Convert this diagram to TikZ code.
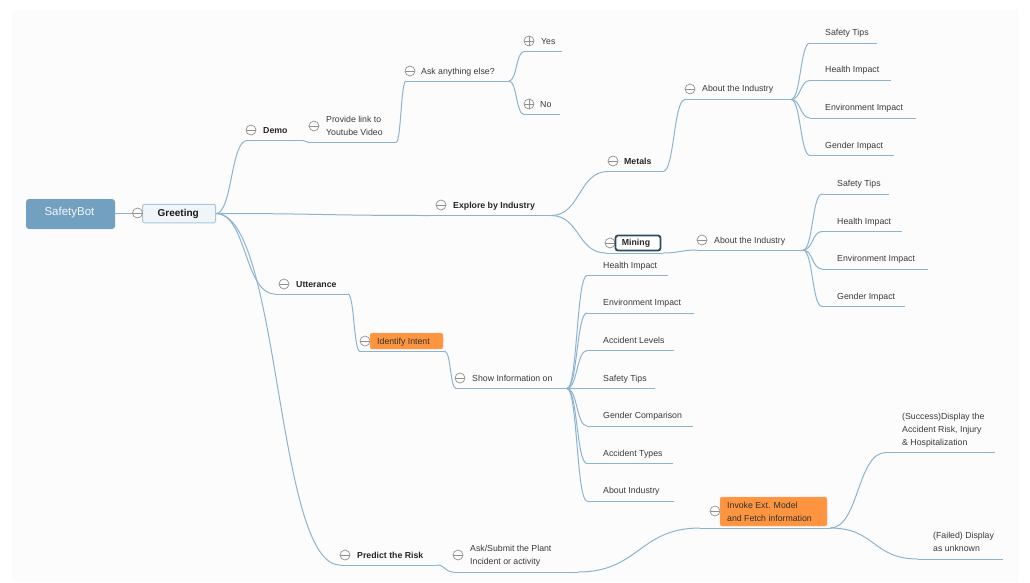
\documentclass[tikz,border=0pt]{standalone}
\usepackage{fontspec}
\setmainfont{Liberation Sans}
\usetikzlibrary{calc}
\definecolor{linec}{HTML}{8DB4CF}
\definecolor{txt}{HTML}{3A3A3A}
\definecolor{rootc}{HTML}{72A0C1}
\definecolor{orangec}{HTML}{FC9440}
\definecolor{iconc}{HTML}{909090}
\definecolor{bgc}{HTML}{FCFCFC}
\definecolor{greetc}{HTML}{F0F5F9}
\definecolor{minec}{HTML}{2F4A5F}
\tikzset{
  conn/.style={draw=linec,line width=1pt},
  label/.style={anchor=west,inner sep=0pt,yshift=-0.8pt,font=\fontsize{8.75}{13}\selectfont,text=txt,align=left},
  blabel/.style={label,font=\fontsize{8.75}{13}\selectfont\bfseries,text=black!85},
  icon/.style={circle,draw=iconc,line width=0.7pt,minimum size=10pt,inner sep=0pt,fill=bgc,
    path picture={\draw[iconc,line width=0.7pt] ([xshift=-5pt]path picture bounding box.center)--([xshift=5pt]path picture bounding box.center);}},
  plusicon/.style={icon,
    path picture={\draw[iconc,line width=0.7pt] ([xshift=-5pt]path picture bounding box.center)--([xshift=5pt]path picture bounding box.center)
      ([yshift=-5pt]path picture bounding box.center)--([yshift=5pt]path picture bounding box.center);}},
  orangebox/.style={fill=orangec,draw=orangec!70!white,line width=0.4pt,rounded corners=2pt,anchor=center,inner sep=0pt},
}
% name, x0, x1, yline, label style, textx, texty, text
\newcommand{\topic}[8]{%
  \coordinate (#1-l) at (#2,#4);
  \coordinate (#1-r) at (#3,#4);
  \draw[conn] (#1-l) -- (#1-r);
  \node[#5] (#1) at (#6,#7) {#8};
}
\newcommand{\curve}[3][0.52]{%
  \draw[conn] (#2) .. controls ($(#2)!#1!(#2 -| #3)$) and ($(#3)!#1!(#3 -| #2)$) .. (#3);
}
\begin{document}
\begin{tikzpicture}[x=1pt,y=-1pt]
\useasboundingbox (0,0) rectangle (1030,582);
\fill[white] (0,0) rectangle (1030,582);
\fill[bgc] (12,10) rectangle (1018,582);

\topic{demo}{247}{302}{140.5}{blabel}{263}{129.5}{Demo}
\topic{link}{310}{396}{142.5}{label}{326}{125.5}{Provide link to\\Youtube Video}
\topic{ask}{406}{509}{81}{label}{421}{71}{Ask anything else?}
\topic{yes}{524}{562}{51.5}{label}{541}{41}{Yes}
\topic{no}{524}{560}{114.5}{label}{540}{104}{No}
\topic{explore}{430}{551}{215.5}{blabel}{453}{205}{Explore by Industry}
\topic{metals}{608}{663}{171.5}{blabel}{624}{161}{Metals}
\topic{aboutA}{685}{791}{99.5}{label}{702}{88.5}{About the Industry}
\topic{a1}{810}{877}{43}{label}{825}{32}{Safety Tips}
\topic{a2}{810}{891}{80.5}{label}{825}{69.5}{Health Impact}
\topic{a3}{810}{916}{118}{label}{825}{107.5}{Environment Impact}
\topic{a4}{810}{894}{155.5}{label}{825}{145}{Gender Impact}
\coordinate (mining-l) at (606,253);
\coordinate (mining-r) at (663,253);
\draw[conn] (mining-l) -- (mining-r);
\topic{aboutB}{697}{803}{250}{label}{714}{240}{About the Industry}
\topic{b1}{822}{889}{194}{label}{837}{183.5}{Safety Tips}
\topic{b2}{822}{902}{231.5}{label}{837}{221}{Health Impact}
\topic{b3}{822}{928}{269}{label}{837}{258.5}{Environment Impact}
\topic{b4}{822}{905}{306.5}{label}{837}{296}{Gender Impact}
\topic{utter}{275}{348}{294}{blabel}{296}{283.5}{Utterance}
\coordinate (intent-l) at (360,351.5);
\coordinate (intent-r) at (445,351.5);
\draw[conn] (intent-l) -- (intent-r);
\topic{show}{456}{567}{388.5}{label}{472}{378}{Show Information on}
\topic{c1}{587}{668}{275.5}{label}{603}{265}{Health Impact}
\topic{c2}{587}{694}{313}{label}{603}{302.5}{Environment Impact}
\topic{c3}{587}{674}{350.5}{label}{603}{340}{Accident Levels}
\topic{c4}{587}{655}{388.5}{label}{603}{378}{Safety Tips}
\topic{c5}{587}{693}{426}{label}{603}{415.5}{Gender Comparison}
\topic{c6}{587}{673}{463.5}{label}{603}{453}{Accident Types}
\topic{c7}{587}{674}{501}{label}{603}{490.5}{About Industry}
\topic{predict}{340}{437}{565}{blabel}{357}{554.5}{Predict the Risk}
\topic{submit}{453}{578}{572}{label}{470}{554.5}{Ask/Submit the Plant\\Incident or activity}
\coordinate (invoke-l) at (700,528);
\coordinate (invoke-r) at (830,528);
\draw[conn] (invoke-l) -- (invoke-r);
\topic{success}{886}{995}{452.5}{label}{902}{429}{(Success)Display the\\Accident Risk, Injury\\\& Hospitalization}
\topic{failed}{918}{1003}{559}{label}{933}{541.5}{(Failed) Display\\as unknown}

\node[fill=rootc,rounded corners=3pt,minimum width=89pt,minimum height=30pt,inner sep=0pt] (root) at (70.5,214) {};
\node[text=white!92!rootc,font=\fontsize{11.5}{14}\selectfont,inner sep=0pt] at (69.5,212.5) {SafetyBot};
\node[fill=greetc,draw=linec!75!white,line width=1pt,rounded corners=1.5pt,minimum width=73pt,minimum height=18.5pt,inner sep=0pt,font=\fontsize{10}{12}\selectfont\bfseries,text=black!90] (greet) at (179,213.5) {\hspace{-1.5pt}Greeting};
\draw[conn] (root.east |- greet.west) -- (greet.west);
\coordinate (g) at (greet.east);

\curve{g}{demo-l}
\curve[0.5]{g}{explore-l}
\curve{g}{utter-l}
\curve{g}{predict-l}
\curve[0.5]{demo-r}{link-l}
\curve{link-r}{ask-l}
\curve{ask-r}{yes-l}
\curve{ask-r}{no-l}
\curve{explore-r}{metals-l}
\curve{explore-r}{mining-l}
\curve{metals-r}{aboutA-l}
\curve[0.5]{mining-r}{aboutB-l}
\foreach \i in {1,2,3,4}{\curve{aboutA-r}{a\i-l}\curve{aboutB-r}{b\i-l}}
\curve{utter-r}{intent-l}
\curve{intent-r}{show-l}
\foreach \i in {1,2,3,5,6,7}{\curve{show-r}{c\i-l}}
\draw[conn] (show-r) -- (c4-l);
\curve[0.5]{predict-r}{submit-l}
\curve[0.5]{submit-r}{invoke-l}
\curve{invoke-r}{success-l}
\curve{invoke-r}{failed-l}

\node[icon] (i1) at (137.5,213) {};
\node[icon] (i2) at (251,130) {};
\node[icon] (i3) at (314,126) {};
\node[icon] (i4) at (410,71) {};
\node[plusicon] (i5) at (529,41) {};
\node[plusicon] (i6) at (529,104) {};
\node[icon] (i7) at (441,205) {};
\node[icon] (i8) at (613,161) {};
\node[icon] (i9) at (690,89) {};
\node[icon] (i10) at (610,243) {};
\node[icon] (i11) at (702,240) {};
\node[icon] (i12) at (284,284) {};
\node[icon] (i13) at (365,341) {};
\node[icon] (i14) at (460,378) {};
\node[icon] (i15) at (345,555) {};
\node[icon] (i16) at (458,555) {};
\node[icon] (i17) at (715,511) {};

\node[fill=white,draw=minec,line width=1.8pt,rounded corners=2.5pt,minimum width=45pt,minimum height=15pt,inner sep=0pt,font=\fontsize{8.75}{11}\selectfont\bfseries,text=black!85] (mining) at (638,243) {\hspace{-4pt}Mining};
\node[orangebox,minimum width=73pt,minimum height=16pt] (intent) at (406.5,341) {};
\node[label,text=black!80] at (377,341) {Identify Intent};
\node[orangebox,minimum width=107pt,minimum height=29pt] (invoke) at (773.5,511.5) {};
\node[label,text=black!80] at (727,511) {Invoke Ext. Model\\and Fetch information};
\end{tikzpicture}
\end{document}
